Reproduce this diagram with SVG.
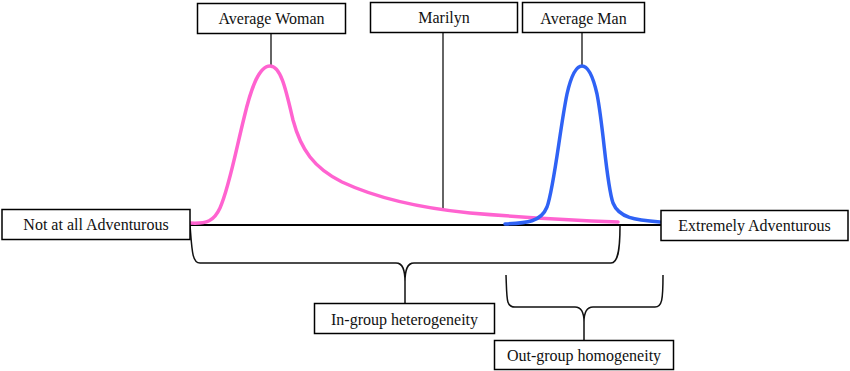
<svg xmlns="http://www.w3.org/2000/svg" width="850" height="371" viewBox="0 0 850 371">
<style>
.box{fill:#fff;stroke:#000;stroke-width:1.5}
.lbl{font-family:'Liberation Serif','Times New Roman','DejaVu Serif',serif;font-size:16px;fill:#111;text-anchor:middle}
.ln{fill:none;stroke:#111;stroke-width:1.3}
.br{fill:none;stroke:#111;stroke-width:1.5}
.pink{fill:none;stroke:#FF63D0;stroke-width:3.5;stroke-linecap:round}
.blue{fill:none;stroke:#2F62F5;stroke-width:3.5;stroke-linecap:round}
</style>
<rect width="850" height="371" fill="#fff"/>
<g id="connectors">
<line class="ln" x1="271" y1="33" x2="271" y2="65"/>
<line class="ln" x1="443" y1="32" x2="443" y2="211"/>
<line class="ln" x1="582" y1="33" x2="582" y2="65"/>
<path class="br" d="M190,225 C192,250 192,263 200,263 L396,263 C403,263 405,270 405,282 L405,303 M405,282 C405,270 407,263 414,263 L611,263 C618,263 620,250 620,226"/>
<path class="br" d="M506,275 C507,300 506,307 515,307 L575,307 C582,307 584,313 584,322 L584,341 M584,322 C584,313 586,307 593,307 L655,307 C662,307 663,300 663,275"/>
</g>
<g id="axis">
<line x1="190" y1="225" x2="661" y2="225" stroke="#000" stroke-width="2.2"/>
</g>
<g id="curves">
<path class="pink" d="M190,223 C207,224 214,221 220,208 C229,188 236,150 244,118 C251,88 259,66 270,66 C281,66 286,90 293,120 C301,150 314,168 342,182 C372,196 410,207 470,213 C530,218 590,221 618,222"/>
<path class="blue" d="M505,224 C527,223 541,222 547,207 C554,188 560,128 567,94 C572,72 577,66 582,66 C587,66 592,72 597,94 C604,130 606,182 613,203 C619,218 635,220 660,222"/>
</g>
<g id="avg-woman"><rect class="box" x="197.5" y="3.5" width="148" height="30"/><text class="lbl" x="271.5" y="24" font-family="Liberation Serif, serif">Average Woman</text></g>
<g id="marilyn"><rect class="box" x="370.5" y="2.5" width="147" height="30"/><text class="lbl" x="444" y="23" font-family="Liberation Serif, serif">Marilyn</text></g>
<g id="avg-man"><rect class="box" x="522.5" y="2.5" width="122" height="30"/><text class="lbl" x="583.5" y="24" font-family="Liberation Serif, serif">Average Man</text></g>
<g id="not-adv"><rect class="box" x="2" y="209.5" width="188" height="30"/><text class="lbl" x="96" y="230" font-family="Liberation Serif, serif">Not at all Adventurous</text></g>
<g id="ext-adv"><rect class="box" x="661" y="210.5" width="187" height="30"/><text class="lbl" x="754.5" y="231" font-family="Liberation Serif, serif">Extremely Adventurous</text></g>
<g id="in-group"><rect class="box" x="314.5" y="303.5" width="180" height="30"/><text class="lbl" x="404.5" y="325" font-family="Liberation Serif, serif">In-group heterogeneity</text></g>
<g id="out-group"><rect class="box" x="494.5" y="340.5" width="179" height="29"/><text class="lbl" x="584" y="361" font-family="Liberation Serif, serif">Out-group homogeneity</text></g>
</svg>
